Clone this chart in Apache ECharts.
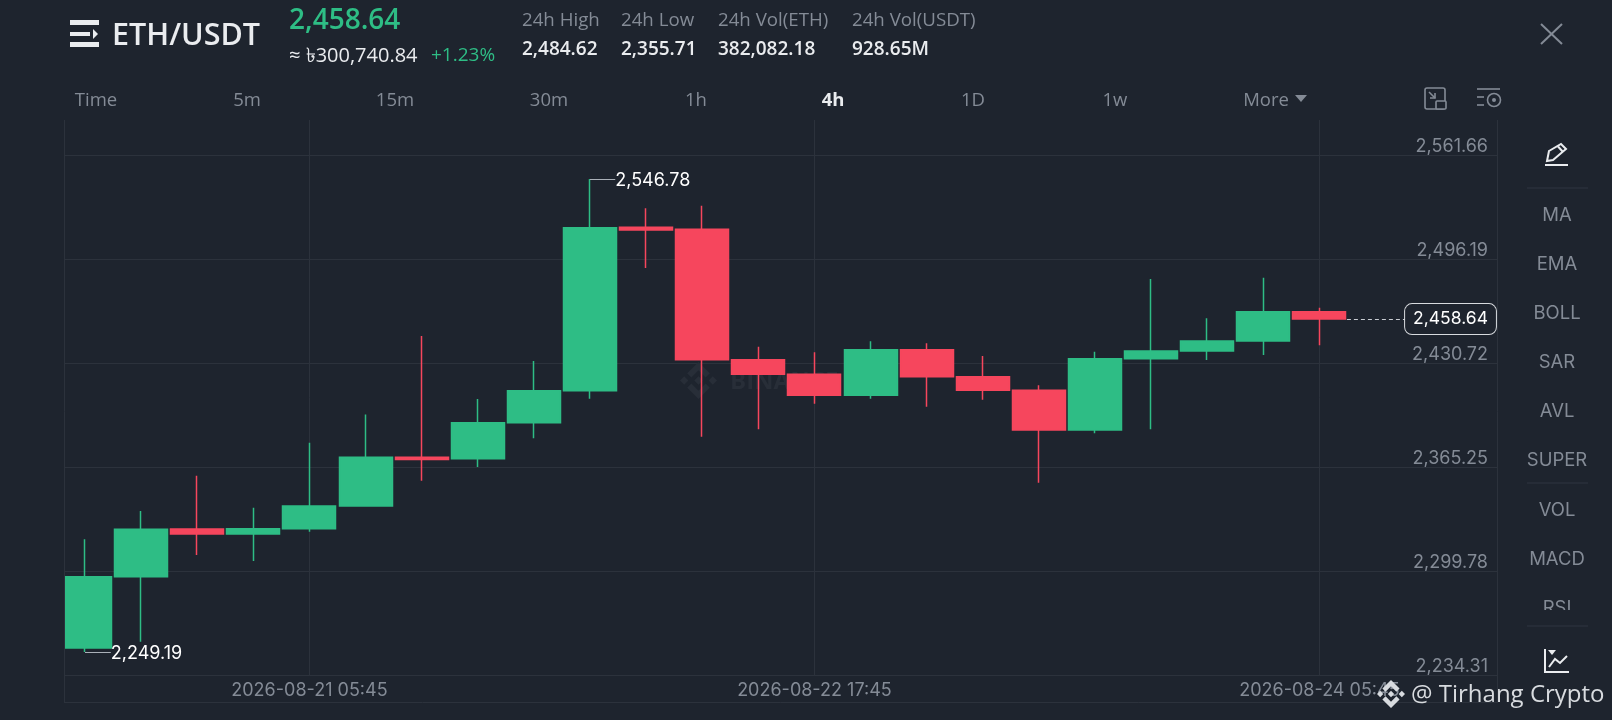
<!DOCTYPE html>
<html><head><meta charset="utf-8">
<style>html,body{margin:0;padding:0;background:#1e242e}#c{width:1612px;height:720px}</style>
<script src="https://cdn.jsdelivr.net/npm/echarts@6/dist/echarts.min.js"></script>
</head><body><div id="c"></div>
<script>
const candleTimes = ['2026-08-20T13:45','2026-08-20T17:45','2026-08-20T21:45','2026-08-21T01:45','2026-08-21T05:45','2026-08-21T09:45','2026-08-21T13:45','2026-08-21T17:45','2026-08-21T21:45','2026-08-22T01:45','2026-08-22T05:45','2026-08-22T09:45','2026-08-22T13:45','2026-08-22T17:45','2026-08-22T21:45','2026-08-23T01:45','2026-08-23T05:45','2026-08-23T09:45','2026-08-23T13:45','2026-08-23T17:45','2026-08-23T21:45','2026-08-24T01:45','2026-08-24T05:45'];
const opens  = [2251.71,2296.56,2326.57,2323.42,2326.75,2341.04,2371.67,2370.80,2393.44,2413.57,2516.37,2515.11,2433.07,2423.89,2410.68,2439.37,2422.38,2413.82,2388.85,2433.70,2438.55,2444.84,2463.27];
const closes = [2296.56,2326.38,2323.42,2326.75,2341.04,2371.67,2370.30,2393.44,2413.57,2516.11,2514.67,2433.07,2423.89,2410.68,2439.37,2422.38,2413.82,2388.85,2433.70,2438.55,2444.84,2463.27,2458.64];
const lows   = [2249.19,2255.67,2310.21,2306.46,2324.86,2340.90,2356.96,2365.56,2383.63,2408.54,2490.76,2384.63,2389.29,2405.40,2408.54,2403.50,2407.90,2355.71,2386.77,2389.29,2432.88,2436.04,2442.13];
const highs  = [2320.10,2337.89,2360.10,2339.97,2380.86,2398.60,2447.98,2408.36,2432.26,2546.78,2528.32,2529.96,2441.26,2437.73,2444.65,2443.40,2435.40,2416.97,2438.10,2483.84,2459.12,2484.62,2465.79];
const yTicks = [2234.31,2299.78,2365.25,2430.72,2496.19,2561.66];
const xTickTimes = ['2026-08-21T05:45','2026-08-22T17:45','2026-08-24T05:45'];
const lastPrice = 2458.64, periodHigh = 2546.78, periodLow = 2249.19;
const ticker = {pair:'ETH/USDT', price:'2,458.64', local:'≈ ৳300,740.84', change:'+1.23%'};
const statHeads = ['24h High','24h Low','24h Vol(ETH)','24h Vol(USDT)'];
const statVals  = ['2,484.62','2,355.71','382,082.18','928.65M'];
const tabs = ['Time','5m','15m','30m','1h','4h','1D','1w','More'];
const sideItems = ['MA','EMA','BOLL','SAR','AVL','SUPER','VOL','MACD','RSI'];

const UP='#2ebd85', DOWN='#f6465d', BG='#1e242e', LINE='#2c323c', GREY='#848b96', WHITE='#eaecef';
const FONT='"Open Sans"', AXFONT='Inter';
const ms = s => new Date(s).getTime();
const fmt = v => { const d=new Date(v), p=n=>String(n).padStart(2,'0');
  return d.getFullYear()+'-'+p(d.getMonth()+1)+'-'+p(d.getDate())+' '+p(d.getHours())+':'+p(d.getMinutes()); };
const STEP = ms(candleTimes[1])-ms(candleTimes[0]);
const T0 = ms(candleTimes[0]), TL = ms(candleTimes[22]), TH = ms(candleTimes[9]);
const price = v => v.toLocaleString('en-US',{minimumFractionDigits:2});

const txt=(text,x,y,size,fill,weight,align)=>({type:'text',z:50,silent:true,style:{text,x,y,fill,align:align||'left',verticalAlign:'middle',font:(weight||400)+' '+size+'px '+FONT}});
const ln=(x1,y1,x2,y2,stroke,lw)=>({type:'line',z:41,silent:true,shape:{x1,y1,x2,y2},style:{stroke,lineWidth:lw||1}});
const poly=(points,stroke,lw)=>({type:'polyline',z:50,silent:true,shape:{points},style:{stroke,lineWidth:lw||2,fill:'none'}});
const bar=(x,y,width,height,fill,z)=>({type:'rect',z:z||50,silent:true,shape:{x,y,width,height},style:{fill}});
const LOGO_PARTS=[[[12,0],[19.34,7.34],[16.62,10.06],[12,5.42],[7.35,10.06],[4.63,7.34]],[[12,24],[19.34,16.66],[16.62,13.94],[12,18.58],[7.35,13.94],[4.63,16.66]],[[12,9.28],[14.72,12],[12,14.72],[9.27,12]],[[2.72,9.28],[5.41,12],[2.72,14.69],[0,12]],[[21.26,9.28],[24,12],[21.28,14.72],[18.57,12]]];
const logo=(x,y,s,fill,z)=>LOGO_PARTS.map(p=>({type:'polygon',z,silent:true,shape:{points:p.map(q=>[x+q[0]*s/24,y+q[1]*s/24])},style:{fill}}));

const statX=[522,621,718,852], tabX=[96,247,395,549,696,833,973,1115,1266], sideY=[215,264,313,362,411,460,510,559,608];
const g=[
  bar(0,110,64,600,BG,40),
  ln(64.5,120,64.5,703,LINE), ln(64.5,702.5,1497,702.5,LINE), ln(1497.5,120,1497.5,703,LINE),
  ...logo(680,362,37,'#282e38',1),
  {type:'text',z:1,silent:true,style:{text:'BINANCE',x:730,y:382,fill:'#282e38',verticalAlign:'middle',font:'700 24px '+FONT}},
  bar(70,20,29,5,WHITE), bar(70,32,20,4,WHITE), bar(70,42,29,5,WHITE),
  {type:'polygon',z:50,silent:true,shape:{points:[[93,29],[98,34],[93,39]]},style:{fill:WHITE}},
  txt(ticker.pair,112,36,30.5,WHITE,600),
  txt(ticker.price,289,21,28,UP,600),
  txt(ticker.local,289,56,20,WHITE,500),
  txt(ticker.change,431,56,19,UP,400),
  poly([[1541,24],[1562,44]],GREY,2), poly([[1562,24],[1541,44]],GREY,2),
  {type:'polygon',z:50,silent:true,shape:{points:[[1295,95],[1307,95],[1301,102]]},style:{fill:GREY}},
  {type:'rect',z:50,silent:true,shape:{x:1425,y:88,width:20,height:21,r:2},style:{stroke:GREY,lineWidth:1.6,fill:'none'}},
  poly([[1429,92],[1435,98]],GREY,1.6), poly([[1435,93],[1435,98],[1430,98]],GREY,1.6),
  {type:'rect',z:50,silent:true,shape:{x:1436,y:101,width:10,height:8,r:1},style:{stroke:GREY,lineWidth:1.6,fill:BG}},
  poly([[1477,89],[1500,89]],GREY,1.6), poly([[1477,97],[1484,97]],GREY,1.6), poly([[1477,105],[1484,105]],GREY,1.6),
  {type:'circle',z:50,silent:true,shape:{cx:1494,cy:100,r:6.5},style:{stroke:GREY,lineWidth:1.6,fill:'none'}},
  {type:'circle',z:50,silent:true,shape:{cx:1494,cy:100,r:2},style:{fill:GREY}},
  poly([[1527,188],[1588,188]],'#2f3540',1), poly([[1527,483],[1588,483]],'#2f3540',1), poly([[1527,626],[1588,626]],'#2f3540',1),
  poly([[1545,165],[1568,165]],WHITE,2),
  {type:'polygon',z:50,silent:true,shape:{points:[[1549,151],[1561,144],[1566,149],[1553,160],[1547,161]]},style:{stroke:WHITE,lineWidth:2,fill:'none'}},
  poly([[1558,146.5],[1563,152]],WHITE,2),
  poly([[1545,649],[1545,672],[1569,672]],WHITE,2), poly([[1549,667],[1555,659],[1560,663],[1567,656]],WHITE,2),
  {type:'polygon',z:50,silent:true,shape:{points:[[1548,650],[1556,650],[1552,655]]},style:{fill:WHITE}},
];
statHeads.forEach((t,i)=>g.push(txt(t,statX[i],21,18.7,GREY,500), txt(statVals[i],statX[i],50,19,WHITE,600)));
tabs.forEach((t,i)=>g.push(txt(t,tabX[i],100.5,18.5,t==='4h'?WHITE:GREY,t==='4h'?700:400,'center')));
sideItems.forEach((t,i)=>g.push({type:'text',z:50,silent:true,style:{text:t,x:1557,y:sideY[i],fill:GREY,align:'center',verticalAlign:'middle',font:'400 18.5px '+AXFONT}}));
g.push(bar(1527,610,61,14,BG,51));
g.push(...logo(1377,680,28,'#d8dbdf',60));
g.push({type:'text',z:60,silent:true,style:{text:'@ Tirhang Crypto',x:1411,y:695,fill:'#d8dbdf',verticalAlign:'middle',font:'400 24px '+FONT}});

const chart=echarts.init(document.getElementById('c'),null,{renderer:'canvas'});
chart.setOption({
  animation:false,
  backgroundColor:BG,
  graphic:g,
  grid:{left:65,right:115,top:120,height:555.7,containLabel:false,show:false},
  xAxis:{type:'value',min:T0-0.3564*STEP,max:T0+25.165*STEP,scale:true,
    axisLine:{show:false},axisTick:{show:false,customValues:xTickTimes.map(ms)},
    axisLabel:{customValues:xTickTimes.map(ms),formatter:v=>fmt(v),color:GREY,fontFamily:AXFONT,fontSize:18,margin:6,hideOverlap:false},
    splitLine:{show:true,lineStyle:{color:LINE,width:1}}},
  yAxis:{type:'value',position:'right',min:2234.31,max:2583.9,scale:true,
    axisLine:{show:false},axisTick:{show:false,customValues:yTicks},
    axisLabel:{inside:true,customValues:yTicks,formatter:v=>price(v),color:GREY,fontFamily:AXFONT,fontSize:18,margin:9,verticalAlign:'bottom'},
    splitLine:{show:true,lineStyle:{color:LINE,width:1}}},
  series:[{type:'candlestick',barWidth:53.5,
    data:candleTimes.map((t,i)=>[ms(t),opens[i],closes[i],lows[i],highs[i]]),
    encode:{x:0,y:[1,2,3,4]},
    itemStyle:{color:UP,color0:DOWN,borderColor:UP,borderColor0:DOWN,borderWidth:1.5},
    markLine:{silent:true,symbol:'none',animation:false,
      data:[
        [{coord:[TL+0.49*STEP,lastPrice],lineStyle:{color:'#c8ccd2',type:[4,3],width:1},
          label:{show:true,position:'end',distance:0,formatter:price(lastPrice),color:'#ffffff',fontFamily:AXFONT,fontSize:17.5,borderColor:'#d8dbdf',borderWidth:1,borderRadius:7,padding:[6,8,6,8],backgroundColor:BG}},
         {coord:[TL+1.527*STEP,lastPrice]}],
        [{coord:[TH,periodHigh],lineStyle:{color:'#aab0b8',type:'solid',width:1},
          label:{show:true,position:'end',distance:0,offset:[0,2],formatter:price(periodHigh),color:'#ffffff',fontFamily:AXFONT,fontSize:18}},
         {coord:[TH+0.45*STEP,periodHigh]}],
        [{coord:[T0,periodLow],lineStyle:{color:'#aab0b8',type:'solid',width:1},
          label:{show:true,position:'end',distance:0,offset:[0,2],formatter:price(periodLow),color:'#ffffff',fontFamily:AXFONT,fontSize:18}},
         {coord:[T0+0.46*STEP,periodLow]}]
      ]}
  }]
});
</script></body></html>
